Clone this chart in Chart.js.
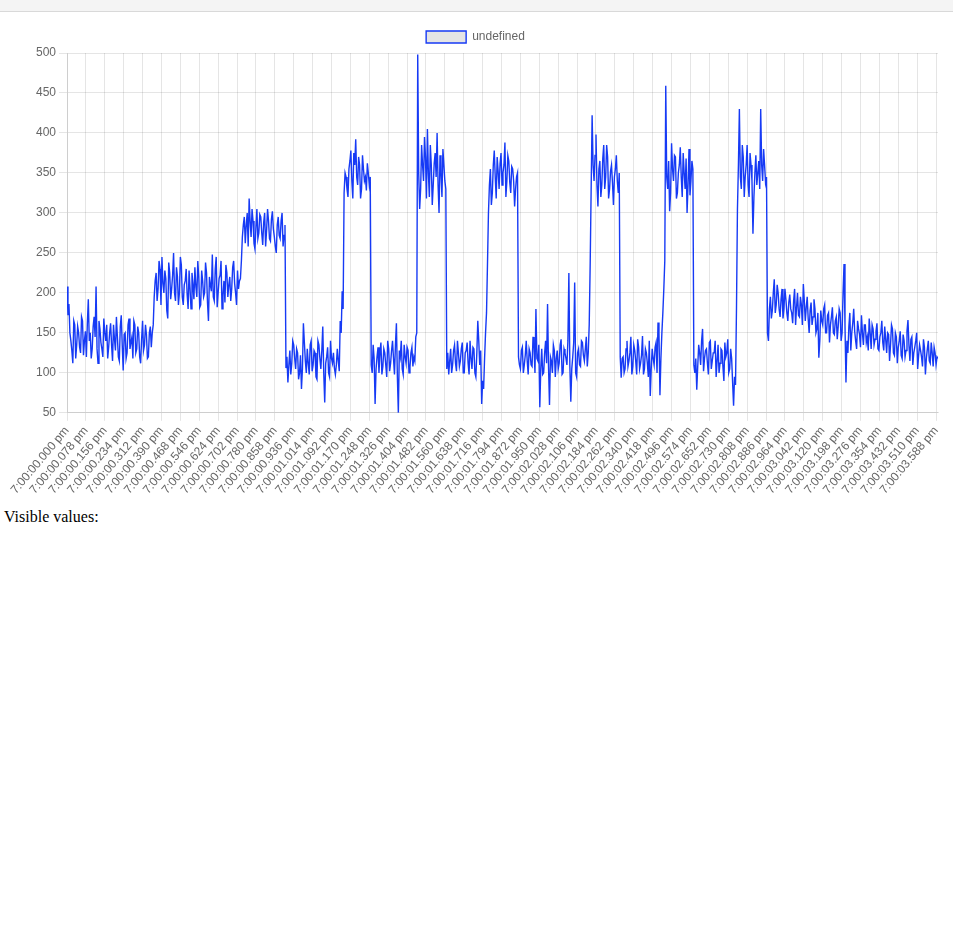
<!DOCTYPE html>
<html><head><meta charset="utf-8">
<script src="https://cdn.jsdelivr.net/npm/chart.js@4/dist/chart.umd.min.js"></script>
<style>
html,body{margin:0;padding:0;background:#fff;}
#topbar{position:absolute;left:0;top:0;width:953px;height:11px;background:#f4f4f4;border-bottom:1px solid #d9d9d9;}
#wrap{position:absolute;left:0;top:21px;width:953px;height:479px;}
#vis{position:absolute;left:4px;top:508px;font-family:"Liberation Serif","Times New Roman",serif;font-size:16px;color:#000;}
</style></head>
<body>
<div id="topbar"></div>
<div id="wrap"><canvas id="c"></canvas></div>
<div id="vis">Visible values:</div>
<script>
// sample spacing (ms): main samples at i*STEP_MS, in-between samples at i*STEP_MS + STEP_MS/2
const STEP_MS = 8;
const X_MAX_MS = 3596;
const TICK_STEP_MS = 78;
const LAST_TICK_MS = 3588;

// hand-read values, segment by segment (main samples)
const segA = [208,186,140,112,160,135,150,125,165,140,120,192,150,130,170,208,112,155,130,168,140,118,150,135,160,128,145,115,172,103,150,125,168,138,118,160,130,150,112,165,135,148,120,158,150];
const segB = [195,225,205,230,245,200,218,168,225,205,250,190,220,200,235,185,215,198,228,180,210,232,195,220,185,215,200,225,165,210,248,190,245,200,222,180,215,235,195,220,205,240,200,228,215];
const segC = [240,285,262,300,318,270,290,255,305,275,295,260,300,278,290,265,302,270,250,295,268,300,272];
const segD = [106,88,128,112,135,105,125,100,80,162,115,130,98,140,110,125,92,135,105,158,63,120,100,140,112,106,110,115,165,202];
const segE = [325,345,320,365,340,375,392,335,360,330,355,345,362,335];
const segF = [110,135,61,120,100,138,108,125,95,130,112,140,98,162,50,120,105,135,112,128,108,132,120,145];
const segG = [498,305,385,340,370,405,320,360,335,375,400,300,350,380,340];
const segH = [105,98,130,110,135,102,125,115,138,100,128,112,140,105,130,95,165,110,61,80,150,236];
const segI = [335,310,360,345,370,330,375,350,388,340,365,325,355,308,345];
const segJ = [120,105,132,110,140,98,125,108,135,180,115,57,130,100,140,186,60,115,135,95,128,112,142,100,125,110,225,64,120,213,95,130,108,138,115,145,125,236];
const segK = [422,340,398,308,365,335,385,345,370,330,360,310,355,340,350];
const segL = [94,120,105,140,115,145,108,128,98,132,112,146,105,125,95,71,130,110,138,163,72,150,205];
const segM = [459,330,302,387,340,370,325,360,345,375,330,300,380,340,355];
const segN = [100,79,135,110,155,118,130,98,140,115,125,95,135,112,128,90,120,142,105,118,59,85];
const segO = [305,430,330,370,345,385,320,360,274,350,335,365,430,340,360,345];
const segP = [140,195,178,217,185,200,170,205,180,192,165,198,175,190,160,200,170,185,211,165,195,150,188,170,180,155,119,178,160,185,150,175,160,182,148,170,158,175,150];
const segQ = [236,88,125,175,150,180,140,165,148,172,135,160,145,168,130,155,142,162,128,150,138,158,125,148,135,155,122,145,132,152,118,140,128,166,115,145,125,140,105,135,120,142,98,130,115,138,108,125,120];

// hand-read in-between samples
const midA = [172,150,128,165,118,158,132,170,122,152,162,140,118,158,145,130,165,138,120,150,160,132,162,115,142,170,120,158,135,148,118,160,130,145,165,125,158,120,142,128,160,118,150,132,160];
const midB = [215,190,240,185,212,228,178,238,192,222,200,232,185,245,195,210,230,180,205,225,192,208,240,182,228,195,238,188,220,202,195,230,182,218,240,198,188,225,210,190,232,212,185,205,218];
const midC = [270,295,285,258,290,305,262,282,268,298,275,288,258,305,268,292,280,258,285,272,290,258,285];
const midD = [120,110,98,140,118,130,92,122,105,138,100,112,135,102,128,95,140,118,128,100,112,132,95,118,125,98,130,102,150,180];
const midE = [350,330,355,378,318,360,345,370,318,372,340,328,350,345];
const midF = [100,118,105,132,125,98,130,110,140,102,128,118,135,95,128,140,98,120,132,100,125,108,115,150];
const midG = [350,330,360,395,318,350,385,310,362,345,335,372,320,360,330];
const midH = [125,115,100,128,112,140,108,130,100,125,138,98,118,132,100,125,140,128,90,118,175,300];
const midI = [355,325,378,318,352,362,335,360,320,372,338,358,340,330,350];
const midJ = [110,128,100,122,115,130,110,145,100,118,135,105,98,125,112,108,120,100,128,118,105,135,98,130,118,140,110,105,138,100,125,110,140,122,130,108,160,330];
const midK = [360,372,335,355,320,368,330,385,318,352,338,345,372,325,120];
const midL = [118,100,130,108,125,98,135,115,142,105,122,98,130,112,140,105,118,132,100,150,118,175,240];
const midM = [345,365,325,355,372,318,350,382,320,350,368,335,322,365,110];
const midN = [118,108,125,140,102,128,112,138,105,125,140,115,100,130,108,138,125,100,130,88,95,180];
const midO = [360,345,385,320,360,335,375,340,320,372,350,330,360,380,338,150];
const midP = [180,168,200,175,210,180,192,168,205,175,188,180,162,205,182,172,195,160,190,182,168,178,160,192,150,175,140,165,180,150,172,138,170,150,165,142,180,140,200];
const midQ = [160,140,158,128,162,152,130,155,132,150,160,138,128,150,160,135,152,130,145,165,128,142,150,115,160,125,150,112,140,122,148,120,152,135,142,110,132,150,122,128,108,132,118,140,112,125,132,110,118];

const values = [].concat(segA,segB,segC,segD,segE,segF,segG,segH,segI,segJ,segK,segL,segM,segN,segO,segP,segQ);
const mids = [].concat(midA,midB,midC,midD,midE,midF,midG,midH,midI,midJ,midK,midL,midM,midN,midO,midP,midQ);
const points = [];
values.forEach((v,i) => {
  points.push({x: i*STEP_MS, y: v});
  points.push({x: i*STEP_MS + STEP_MS/2, y: mids[i]});
});

const tickMs = [];
for (let t = 0; t <= LAST_TICK_MS; t += TICK_STEP_MS) tickMs.push(t);
function fmtTime(ms){
  const s = Math.floor(ms/1000);
  const r = String(Math.round(ms%1000)).padStart(3,'0');
  return '7:00:0' + s + '.' + r + ' pm';
}

Chart.defaults.font.family = '"Liberation Sans", Arial, Helvetica, sans-serif';
Chart.defaults.font.size = 12;
Chart.defaults.color = '#666';

new Chart(document.getElementById('c'), {
  type: 'line',
  data: { datasets: [{
    label: 'undefined',
    data: points,
    borderColor: 'rgb(22,58,245)',
    backgroundColor: 'rgba(0,0,0,0.1)',
    borderWidth: 1.4,
    pointRadius: 0,
    fill: false,
    tension: 0
  }]},
  options: {
    responsive: true,
    maintainAspectRatio: false,
    animation: false,
    layout: { padding: { left: 13, right: 15 } },
    plugins: {
      legend: { labels: { boxWidth: 40, boxHeight: 12, color: '#666' } },
      tooltip: { enabled: false }
    },
    scales: {
      x: {
        type: 'linear', min: 0, max: X_MAX_MS,
        afterBuildTicks: axis => { axis.ticks = tickMs.map(v => ({value: v})); },
        ticks: { autoSkip: false, minRotation: 50, maxRotation: 50, callback: v => fmtTime(v) },
        grid: { color: 'rgba(0,0,0,0.1)' }
      },
      y: {
        min: 50, max: 500,
        afterFit: s => { s.width = 54; },
        ticks: { stepSize: 50 },
        grid: { color: 'rgba(0,0,0,0.1)' }
      }
    }
  }
});
</script>
</body></html>
